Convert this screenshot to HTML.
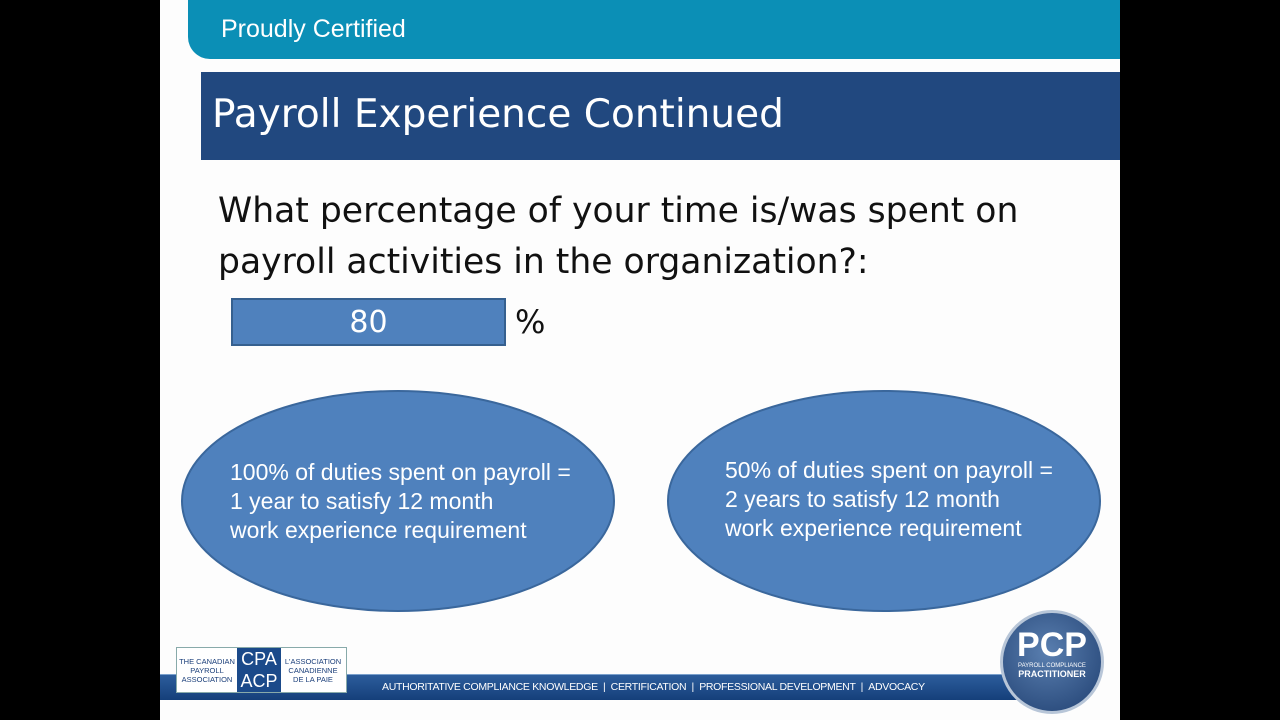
<!DOCTYPE html>
<html><head><meta charset="utf-8"><style>
*{margin:0;padding:0;box-sizing:border-box}
body{width:1280px;height:720px;background:#000;position:relative;overflow:hidden;font-family:"Liberation Sans",sans-serif}
.abs{position:absolute}
</style></head><body>
<div class="abs" style="left:160px;top:0;width:960px;height:720px;background:#fdfdfd"></div>
<div class="abs" style="left:188px;top:0;width:932px;height:59px;background:#0b8fb6;border-bottom-left-radius:22px"></div>
<div class="abs" style="left:221px;top:15px;color:#fff;font-size:25px">Proudly Certified</div>
<div class="abs" style="left:201px;top:72px;width:919px;height:88px;background:#21487f"></div>
<div class="abs" style="left:212px;top:92px;color:#fff;font-family:'DejaVu Sans',sans-serif;font-size:39px">Payroll Experience Continued</div>
<div class="abs" style="left:218px;top:186px;color:#111;font-family:'DejaVu Sans',sans-serif;font-size:34.6px;line-height:51px">What percentage of your time is/was spent on<br>payroll activities in the organization?:</div>
<div class="abs" style="left:231px;top:298px;width:275px;height:48px;background:#4f81bd;border:2px solid #36608f;color:#fff;font-family:'DejaVu Sans',sans-serif;font-size:30px;text-align:center;line-height:46px">80</div>
<div class="abs" style="left:515px;top:303px;color:#111;font-family:'DejaVu Sans',sans-serif;font-size:32px">%</div>
<svg class="abs" style="left:0;top:0" width="1280" height="720">
<ellipse cx="398" cy="501" rx="216" ry="110" fill="#4f81bd" stroke="#3a679c" stroke-width="2"/>
<ellipse cx="884" cy="501" rx="216" ry="110" fill="#4f81bd" stroke="#3a679c" stroke-width="2"/>
</svg>
<div class="abs" style="left:230px;top:458px;color:#fff;font-size:23px;line-height:29px">100% of duties spent on payroll =<br>1 year to satisfy 12 month<br>work experience requirement</div>
<div class="abs" style="left:725px;top:456px;color:#fff;font-size:23px;line-height:29px">50% of duties spent on payroll =<br>2 years to satisfy 12 month<br>work experience requirement</div>
<div class="abs" style="left:160px;top:674px;width:900px;height:26px;background:linear-gradient(#2c5d9c,#153f7a);border-top:1px solid #7aa0cc"></div>
<div class="abs" style="left:382px;top:681px;color:#fff;font-size:10.5px;letter-spacing:-0.3px">AUTHORITATIVE COMPLIANCE KNOWLEDGE &nbsp;| &nbsp;CERTIFICATION &nbsp;| &nbsp;PROFESSIONAL DEVELOPMENT &nbsp;| &nbsp;ADVOCACY</div>
<div class="abs" style="left:176px;top:647px;width:171px;height:46px;background:#fff;border:1px solid #8aa;display:flex;align-items:center;font-size:7.5px;color:#1b3f7a;text-align:center">
<div style="width:60px;line-height:9px">THE CANADIAN<br>PAYROLL<br>ASSOCIATION</div>
<div style="width:44px;height:44px;background:#1b4a8a;color:#fff;font-size:18px;line-height:22px">CPA<br>ACP</div>
<div style="width:64px;line-height:9px">L'ASSOCIATION<br>CANADIENNE<br>DE LA PAIE</div></div>
<div class="abs" style="left:1000px;top:610px;width:104px;height:104px;border-radius:50%;background:radial-gradient(circle at 45% 40%,#5a7fb0,#1f3f70);border:3px solid #b8c6d8;color:#fff;text-align:center">
<div style="font-size:34px;font-weight:bold;margin-top:14px;line-height:36px">PCP</div>
<div style="font-size:6px">PAYROLL COMPLIANCE</div>
<div style="font-size:9px;font-weight:bold">PRACTITIONER</div></div>
</body></html>
